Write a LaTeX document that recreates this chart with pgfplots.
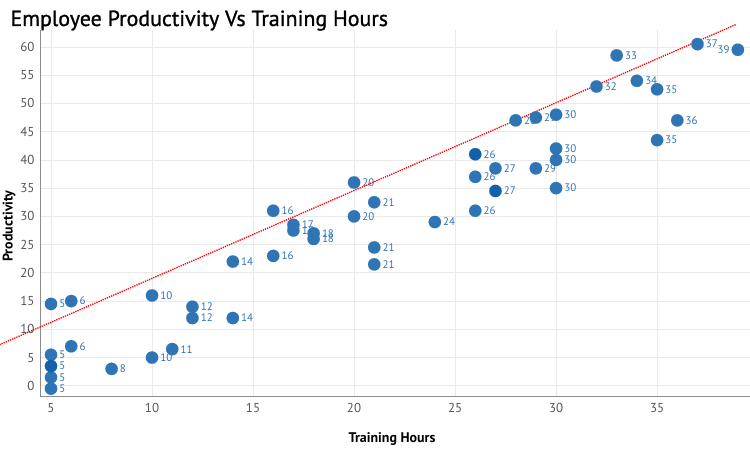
\documentclass[border=0pt]{standalone}
\usepackage{pgfplots}
\pgfplotsset{compat=1.18}
\usepackage{fontspec}
\setmainfont{PT Sans}
\definecolor{mk}{RGB}{47,117,182}
\definecolor{mkd}{RGB}{18,97,170}
\definecolor{lbl}{RGB}{45,115,182}
\definecolor{tk}{RGB}{85,85,85}
\definecolor{gr}{RGB}{233,233,233}
\definecolor{sp}{RGB}{140,140,140}
\begin{document}
\begin{tikzpicture}
\useasboundingbox (0,0) rectangle (750bp,450bp);
\begin{axis}[
  at={(40bp,54bp)}, anchor=south west,
  scale only axis, width=710bp, height=366bp,
  xmin=4.455, xmax=39.6, ymin=-1.8, ymax=63,
  axis x line*=bottom, axis y line*=left,
  axis line style={sp, line width=0.8bp, -},
  xtick={5,10,...,35}, ytick={0,5,...,60},
  grid=major, grid style={gr, line width=0.8bp},
  major tick length=0pt,
  tick label style={font=\fontsize{13}{15}\selectfont, text=tk},
  /pgf/number format/assume math mode=true,
  xticklabel style={yshift=-4bp},
  yticklabel style={xshift=-2bp},
  clip=false,
]
\addplot[mk, only marks, mark=*, mark size=6.2bp,
  mark options={fill=mk, draw=mk, line width=0.1bp},
  point meta=x, nodes near coords,
  nodes near coords style={anchor=west, xshift=5bp, font=\fontsize{11}{13}\selectfont, text=lbl}]
coordinates {
(5,14.5) (6,15) (5,5.5) (5,1.5) (5,-0.5) (6,7) (8,3)
(10,5) (10,16) (11,6.5) (12,14) (12,12) (14,12) (14,22)
(16,31) (16,23) (17,28.5) (17,27.5) (18,27) (18,26)
(20,36) (20,30) (21,32.5) (21,24.5) (21,21.5) (24,29)
(26,37) (26,31) (27,38.5)
(28,47) (29,47.5) (29,38.5) (30,48) (30,42) (30,40) (30,35)
(32,53) (33,58.5) (34,54) (35,52.5) (35,43.5) (36,47) (37,60.5)
};
\addplot[mkd, only marks, mark=*, mark size=6.2bp,
  mark options={fill=mkd, draw=mkd, line width=0.1bp},
  point meta=x, nodes near coords,
  nodes near coords style={anchor=west, xshift=5bp, font=\fontsize{11}{13}\selectfont, text=lbl}]
coordinates {(5,3.5) (26,41) (27,34.5)};
\addplot[mk, only marks, mark=*, mark size=6.2bp,
  mark options={fill=mk, draw=mk, line width=0.1bp},
  point meta=x, nodes near coords,
  nodes near coords style={anchor=east, xshift=-5bp, font=\fontsize{11}{13}\selectfont, text=lbl}]
coordinates {(39,59.5)};
\addplot[red, densely dotted, line width=1.3bp] coordinates {(2.45,7.28) (38.9,63.96)};
\end{axis}
\node[anchor=base west, font=\fontsize{22}{26}\selectfont\addfontfeature{FakeBold=1}] at (7bp,424bp) {Employee Productivity Vs Training Hours};
\node[anchor=base, font=\fontsize{14}{16}\selectfont\bfseries] at (392bp,8bp) {Training Hours};
\node[rotate=90, anchor=center, font=\fontsize{14}{16}\selectfont\bfseries] at (9bp,224bp) {Productivity};
\end{tikzpicture}
\end{document}
